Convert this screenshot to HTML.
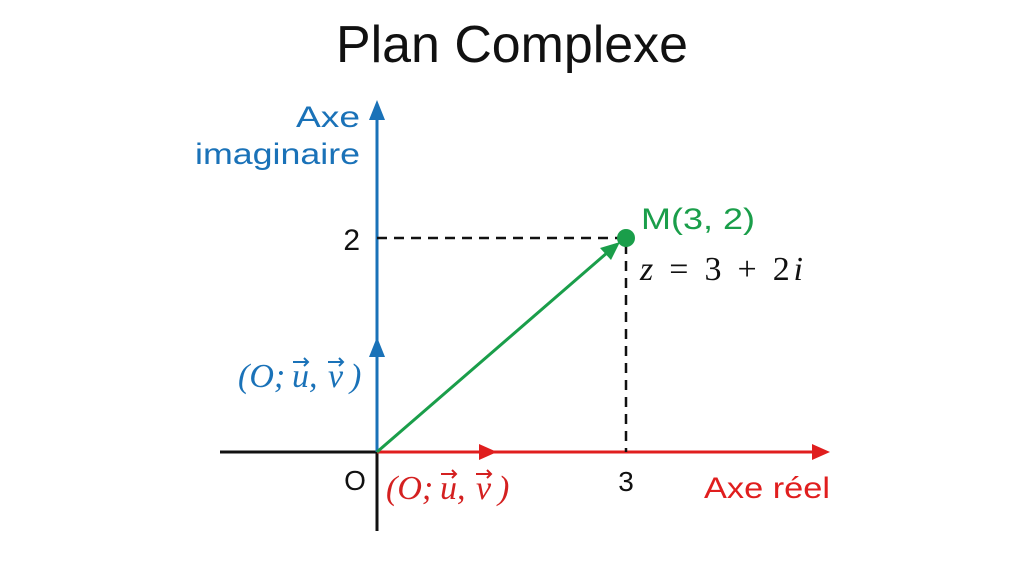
<!DOCTYPE html>
<html><head><style>
body{margin:0;background:#fff;width:1024px;height:572px;overflow:hidden}
svg text{font-family:"Liberation Sans",sans-serif}
.m{font-family:"Liberation Serif",serif;font-style:italic}
</style></head><body>
<svg width="1024" height="572" viewBox="0 0 1024 572">
<text x="512" y="62" font-size="52" text-anchor="middle" fill="#111" textLength="352" lengthAdjust="spacingAndGlyphs">Plan Complexe</text>
<line x1="220" y1="452" x2="377" y2="452" stroke="#111" stroke-width="3"/>
<line x1="377" y1="452" x2="377" y2="531" stroke="#111" stroke-width="3"/>
<line x1="377" y1="452" x2="815" y2="452" stroke="#e01e1e" stroke-width="3"/>
<polygon points="830,452 812,444 812,460" fill="#e01e1e"/>
<polygon points="497,452 479,444 479,460" fill="#e01e1e"/>
<line x1="377" y1="452" x2="377" y2="115" stroke="#1a72b8" stroke-width="3"/>
<polygon points="377,100 369,120 385,120" fill="#1a72b8"/>
<polygon points="377,337 369,357 385,357" fill="#1a72b8"/>
<line x1="377" y1="238" x2="620" y2="238" stroke="#111" stroke-width="2.5" stroke-dasharray="10,7"/>
<line x1="626" y1="244" x2="626" y2="452" stroke="#111" stroke-width="2.5" stroke-dasharray="10,7"/>
<line x1="377" y1="452" x2="608" y2="252" stroke="#1a9e4a" stroke-width="3"/>
<polygon points="620,242 600,248 611,260" fill="#1a9e4a"/>
<circle cx="626" cy="238" r="9" fill="#1a9e4a"/>
<text x="360" y="127" font-size="30" text-anchor="end" fill="#1a72b8" textLength="64" lengthAdjust="spacingAndGlyphs">Axe</text>
<text x="360" y="164" font-size="30" text-anchor="end" fill="#1a72b8" textLength="165" lengthAdjust="spacingAndGlyphs">imaginaire</text>
<text x="360" y="250" font-size="30" text-anchor="end" fill="#111">2</text>
<g fill="#1a72b8" font-size="34" class="m">
<text x="238" y="387" class="m">(O;</text><text x="292" y="387" class="m">u,</text><text x="328" y="387" class="m">v</text><text x="350" y="387" class="m">)</text>
</g>
<g stroke="#1a72b8" stroke-width="2" fill="none"><path d="M293 362h15M304 358l4 4-4 4M328 362h15M339 358l4 4-4 4"/></g>
<text x="355" y="490" font-size="28" text-anchor="middle" fill="#111">O</text>
<g fill="#d42020" font-size="34">
<text x="386" y="499" class="m">(O;</text><text x="440" y="499" class="m">u,</text><text x="476" y="499" class="m">v</text><text x="498" y="499" class="m">)</text>
</g>
<g stroke="#d42020" stroke-width="2" fill="none"><path d="M441 474h15M452 470l4 4-4 4M476 474h15M487 470l4 4-4 4"/></g>
<text x="626" y="491" font-size="28" text-anchor="middle" fill="#111">3</text>
<text x="830" y="498" font-size="30" text-anchor="end" fill="#e01e1e" textLength="126" lengthAdjust="spacingAndGlyphs">Axe réel</text>
<text x="641" y="229" font-size="30" fill="#1a9e4a" textLength="114" lengthAdjust="spacingAndGlyphs">M(3, 2)</text>
<text x="640" y="280" font-size="34" fill="#111" class="m" textLength="163" lengthAdjust="spacing">z <tspan font-style="normal">= 3 + 2</tspan>i</text>
</svg>
</body></html>
